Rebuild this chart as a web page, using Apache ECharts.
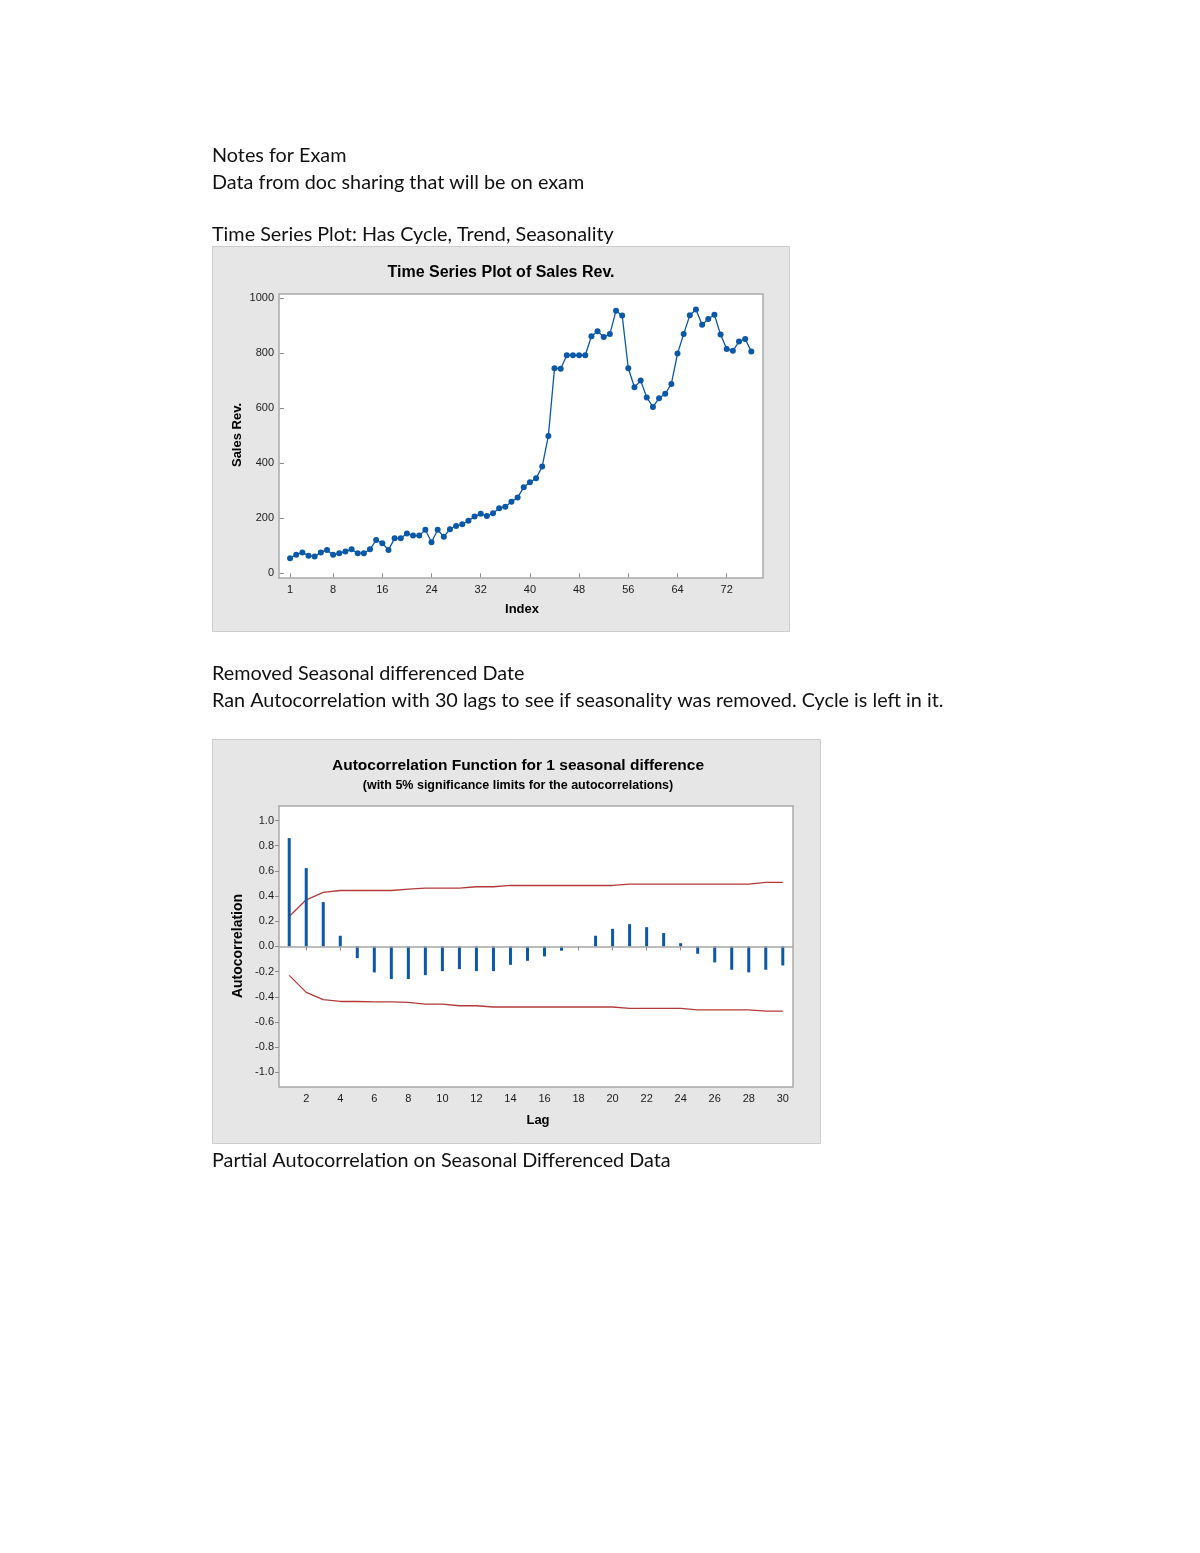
<!DOCTYPE html>
<html><head><meta charset="utf-8">
<script src="https://cdn.jsdelivr.net/npm/echarts@6/dist/echarts.min.js"></script>
<style>html,body{margin:0;padding:0;background:#fff}#c{width:1200px;height:1553px}</style>
</head><body><div id="c"></div>
<script>
// ---- Data ----
const salesRev = [55,67,76,64,61,76,85,67,73,79,
  87,73,73,87,121,109,85,127,127,145,
  137,137,158,113,158,133,160,172,178,191,
  206,216,208,218,236,242,260,275,313,331,
  345,388,499,745,743,792,792,792,792,861,
  879,858,869,954,936,745,676,700,639,604,
  636,652,688,798,869,937,958,903,924,939,
  867,815,808,842,851,806];
const indexTicks = [1,8,16,24,32,40,48,56,64,72];
const salesTicks = [0,200,400,600,800,1000];

const lags = [1,2,3,4,5,6,7,8,9,10,11,12,13,14,15,16,17,18,19,20,21,22,23,24,25,26,27,28,29,30];
const acfValues = [0.86,0.622,0.352,0.085,-0.093,-0.206,-0.259,-0.259,-0.228,-0.196,
  -0.18,-0.196,-0.196,-0.146,-0.114,-0.079,-0.034,0.0,0.085,0.14,
  0.177,0.153,0.106,0.026,-0.058,-0.127,-0.185,-0.206,-0.185,-0.151];
const acfUpper = [0.238,0.37,0.429,0.444,0.444,0.444,0.444,0.455,0.463,0.463,
  0.463,0.474,0.474,0.484,0.484,0.484,0.484,0.484,0.484,0.484,
  0.495,0.495,0.495,0.495,0.495,0.495,0.495,0.495,0.508,0.508];
const acfLower = [-0.23,-0.365,-0.423,-0.437,-0.437,-0.44,-0.44,-0.444,-0.458,-0.458,
  -0.471,-0.471,-0.481,-0.481,-0.481,-0.481,-0.481,-0.481,-0.481,-0.481,
  -0.492,-0.492,-0.492,-0.492,-0.503,-0.503,-0.503,-0.503,-0.513,-0.513];
const lagTicks = [2,4,6,8,10,12,14,16,18,20,22,24,26,28,30];
const acfTicks = [-1.0,-0.8,-0.6,-0.4,-0.2,0.0,0.2,0.4,0.6,0.8,1.0];

const notes = [
  {t:'Notes for Exam', y:156},
  {t:'Data from doc sharing that will be on exam', y:183},
  {t:'Time Series Plot: Has Cycle, Trend, Seasonality', y:235},
  {t:'Removed Seasonal differenced Date', y:674},
  {t:'Ran Autocorrelation with 30 lags to see if seasonality was removed. Cycle is left in it.', y:701},
  {t:'Partial Autocorrelation on Seasonal Differenced Data', y:1161}
];

// ---- Styling ----
const BLUE = '#0b58a8';
const RED = '#b43a3a';
const CF = '"Liberation Sans", Arial, sans-serif';
const BODY = 'Lato, "Open Sans", sans-serif';
const tickStyle = {show:true, length:4, inside:false, lineStyle:{color:'#8a8a8a', width:1}};
const lblStyle = {fontSize:11, color:'#1a1a1a', fontFamily:CF};

const chart = echarts.init(document.getElementById('c'), null, {renderer:'canvas'});

const graphics = [
  {type:'rect', z:-10, shape:{x:212.5, y:246.5, width:577, height:385}, style:{fill:'#e6e6e6', stroke:'#cdcdcd', lineWidth:1}},
  {type:'rect', z:-10, shape:{x:212.5, y:739.5, width:608, height:404}, style:{fill:'#e6e6e6', stroke:'#cdcdcd', lineWidth:1}},
  {type:'text', x:501, y:273, style:{text:'Time Series Plot of Sales Rev.', font:'bold 16px '+CF, fill:'#000', align:'center', verticalAlign:'middle'}},
  {type:'text', x:237, y:435, rotation:Math.PI/2, style:{text:'Sales Rev.', font:'bold 13px '+CF, fill:'#000', align:'center', verticalAlign:'middle'}},
  {type:'text', x:522, y:609, style:{text:'Index', font:'bold 13px '+CF, fill:'#000', align:'center', verticalAlign:'middle'}},
  {type:'text', x:518, y:766, style:{text:'Autocorrelation Function for 1 seasonal difference', font:'bold 15.5px '+CF, fill:'#000', align:'center', verticalAlign:'middle'}},
  {type:'text', x:518, y:786, style:{text:'(with 5% significance limits for the autocorrelations)', font:'bold 12.5px '+CF, fill:'#000', align:'center', verticalAlign:'middle'}},
  {type:'text', x:238, y:946, rotation:Math.PI/2, style:{text:'Autocorrelation', font:'bold 14px '+CF, fill:'#000', align:'center', verticalAlign:'middle'}},
  {type:'text', x:538, y:1120, style:{text:'Lag', font:'bold 13px '+CF, fill:'#000', align:'center', verticalAlign:'middle'}}
];
notes.forEach(n => graphics.push({type:'text', x:212, y:n.y, style:{text:n.t, font:'19.8px '+BODY, fill:'#111', align:'left', verticalAlign:'middle'}}));

chart.setOption({
  animation:false,
  backgroundColor:'#ffffff',
  graphic:{elements:graphics},
  grid:[
    {left:279, top:294, width:484, height:284, show:true, backgroundColor:'#ffffff', borderColor:'#a9a9a9', borderWidth:1.5, z:0},
    {left:279, top:806, width:514, height:281, show:true, backgroundColor:'#ffffff', borderColor:'#a9a9a9', borderWidth:1.5, z:0}
  ],
  xAxis:[
    {gridIndex:0, type:'value', min:-0.8, max:77.9, splitLine:{show:false}, axisLine:{show:false},
     axisTick:Object.assign({customValues:indexTicks}, tickStyle),
     axisLabel:Object.assign({customValues:indexTicks, margin:6, formatter:v => String(v)}, lblStyle)},
    {gridIndex:1, type:'value', min:0.4, max:30.6, splitLine:{show:false}, axisLine:{show:false},
     axisTick:Object.assign({customValues:lagTicks}, tickStyle),
     axisLabel:Object.assign({customValues:lagTicks, margin:6, formatter:v => String(v)}, lblStyle)}
  ],
  yAxis:[
    {gridIndex:0, type:'value', min:-17, max:1014.5, splitLine:{show:false}, axisLine:{show:false},
     axisTick:Object.assign({customValues:salesTicks}, tickStyle),
     axisLabel:Object.assign({customValues:salesTicks, margin:5, formatter:v => String(v)}, lblStyle)},
    {gridIndex:1, type:'value', min:-1.116, max:1.115, splitLine:{show:false}, axisLine:{show:false},
     axisTick:Object.assign({customValues:acfTicks}, tickStyle),
     axisLabel:Object.assign({customValues:acfTicks, margin:5, formatter:v => Number(v).toFixed(1)}, lblStyle)}
  ],
  series:[
    {type:'line', xAxisIndex:0, yAxisIndex:0, data:salesRev.map((v,i)=>[i+1, v]),
     symbol:'circle', symbolSize:6, showSymbol:true, lineStyle:{color:BLUE, width:1.3}, itemStyle:{color:BLUE}},
    {type:'bar', xAxisIndex:1, yAxisIndex:1, data:lags.map((l,i)=>[l, acfValues[i]]), barWidth:3,
     itemStyle:{color:BLUE}, z:3,
     markLine:{silent:true, symbol:'none', label:{show:false}, lineStyle:{color:'#a6a6a6', type:'solid', width:1.5}, data:[{yAxis:0}]}},
    {type:'line', xAxisIndex:1, yAxisIndex:1, data:lags.map((l,i)=>[l, acfUpper[i]]), symbol:'none', lineStyle:{color:RED, width:1.3}, z:2},
    {type:'line', xAxisIndex:1, yAxisIndex:1, data:lags.map((l,i)=>[l, acfLower[i]]), symbol:'none', lineStyle:{color:RED, width:1.3}, z:2}
  ]
});
</script></body></html>
